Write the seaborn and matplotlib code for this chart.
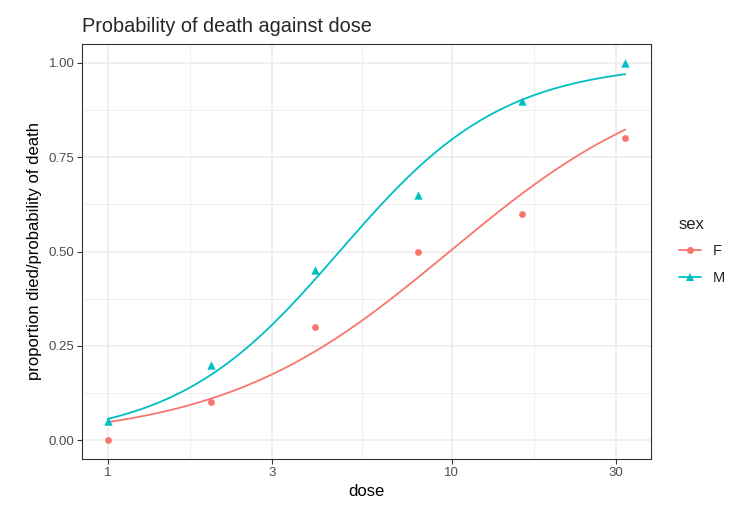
import numpy as np
import pandas as pd
import matplotlib
matplotlib.use("Agg")
import matplotlib.pyplot as plt
from matplotlib.lines import Line2D
from matplotlib.ticker import FixedLocator, NullFormatter
import seaborn as sns

# ---- data (budworm) ----
dose = [1, 2, 4, 8, 16, 32]
prop_F = [0.00, 0.10, 0.30, 0.50, 0.60, 0.80]
prop_M = [0.05, 0.20, 0.45, 0.65, 0.90, 1.00]
n_per_group = 20
sexes = ["F", "M"]
x_ticks = [1, 3, 10, 30]
y_ticks = [0.00, 0.25, 0.50, 0.75, 1.00]

colors = {"F": "#F8766D", "M": "#00BFC4"}
markers = {"F": "o", "M": "^"}
marker_s = {"F": 24, "M": 36}

pts = pd.DataFrame({
    "dose": dose * 2,
    "prop": prop_F + prop_M,
    "sex": ["F"] * len(dose) + ["M"] * len(dose),
})


def fit_logit(x, y, w, iters=50):
    X = np.column_stack([np.ones_like(x), x])
    beta = np.zeros(2)
    for _ in range(iters):
        eta = X @ beta
        mu = 1 / (1 + np.exp(-eta))
        W = w * mu * (1 - mu)
        z = eta + (y - mu) / np.maximum(mu * (1 - mu), 1e-12)
        beta = np.linalg.solve(X.T @ (W[:, None] * X), X.T @ (W * z))
    return beta


grid = np.exp(np.linspace(np.log(min(dose)), np.log(max(dose)), 200))
curves = []
for s in sexes:
    sub = pts[pts.sex == s]
    b = fit_logit(np.log2(sub.dose.values.astype(float)), sub.prop.values,
                  np.full(len(sub), n_per_group, float))
    p = 1 / (1 + np.exp(-(b[0] + b[1] * np.log2(grid))))
    curves.append(pd.DataFrame({"dose": grid, "prop": p, "sex": s}))
curves = pd.concat(curves)

sns.set_theme(style="white")
plt.rcParams["font.family"] = ["Liberation Sans", "DejaVu Sans"]

W, H = 741, 508
fig = plt.figure(figsize=(W / 100, H / 100), dpi=100)
ax = fig.add_axes([82 / W, (H - 459) / H, (651 - 82) / W, (459 - 44) / H])

sns.lineplot(data=curves, x="dose", y="prop", hue="sex", palette=colors,
             ax=ax, linewidth=1.3, legend=False, zorder=3)
for s in sexes:
    sns.scatterplot(data=pts[pts.sex == s], x="dose", y="prop",
                    color=colors[s], marker=markers[s], s=marker_s[s],
                    linewidth=0, ax=ax, legend=False, zorder=4)

ax.set_xscale("log")
lo, hi = np.log10(min(dose)), np.log10(max(dose))
pad = (hi - lo) * 0.05
ax.set_xlim(10 ** (lo - pad), 10 ** (hi + pad))
ax.set_ylim(-0.05, 1.05)
ax.xaxis.set_major_locator(FixedLocator(x_ticks))
ax.set_xticklabels([str(t) for t in x_ticks])
minor_x = [np.sqrt(x_ticks[i] * x_ticks[i + 1]) for i in range(len(x_ticks) - 1)]
ax.xaxis.set_minor_locator(FixedLocator(minor_x))
ax.xaxis.set_minor_formatter(NullFormatter())
ax.set_yticks(y_ticks)
ax.set_yticklabels([f"{t:.2f}" for t in y_ticks])
ax.yaxis.set_minor_locator(FixedLocator([(y_ticks[i] + y_ticks[i + 1]) / 2 for i in range(len(y_ticks) - 1)]))

ax.grid(True, which="major", color="#EBEBEB", linewidth=1.1, zorder=0)
ax.grid(True, which="minor", color="#EBEBEB", linewidth=0.55, zorder=0)
ax.set_axisbelow(True)
for sp in ax.spines.values():
    sp.set_color("#333333")
    sp.set_linewidth(0.8)
ax.tick_params(axis="both", which="major", length=3.5, width=0.8, color="#333333",
               labelsize=9.5, labelcolor="#4D4D4D", pad=2, bottom=True, left=True)
ax.tick_params(axis="both", which="minor", length=0)

ax.set_xlabel("dose", fontsize=12, color="black", labelpad=4)
ax.set_ylabel("proportion died/probability of death", fontsize=12, color="black", labelpad=5)
ax.set_title("Probability of death against dose", fontsize=14.3, loc="left", pad=9, x=0)

handles = [Line2D([0], [0], color=colors[s], marker=markers[s],
                  markersize=5 if s == "F" else 6,
                  linewidth=1.3, markeredgewidth=0) for s in sexes]
leg = fig.legend(handles, sexes, title="sex", loc="upper left",
                 bbox_to_anchor=(673 / W, 1 - 211 / H), frameon=False,
                 fontsize=10.5, title_fontsize=12, handlelength=1.5,
                 handletextpad=0.8, labelspacing=0.85, borderaxespad=0)
leg._legend_box.align = "left"

fig.savefig("out.png", dpi=100)
